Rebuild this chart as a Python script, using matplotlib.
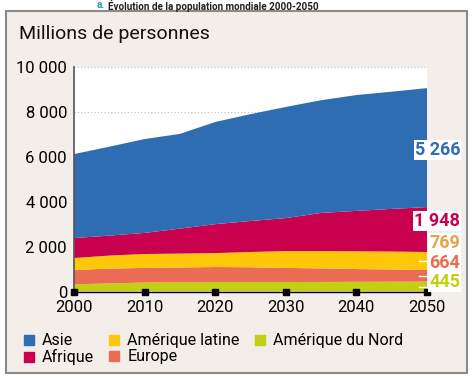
import matplotlib.pyplot as plt
from matplotlib.patches import Rectangle
from matplotlib.lines import Line2D

plt.rcParams['font.family'] = ['Roboto', 'DejaVu Sans']

# donnees (millions)
years = [2000, 2005, 2010, 2015, 2020, 2025, 2030, 2035, 2040, 2045, 2050]
amerique_nord = [320, 360, 400, 410, 420, 420, 420, 425, 430, 435, 440]
europe = [640, 660, 650, 660, 670, 660, 630, 605, 570, 545, 520]
amerique_latine = [530, 580, 620, 620, 620, 680, 750, 770, 790, 800, 800]
afrique = [890, 890, 940, 1110, 1290, 1380, 1470, 1700, 1800, 1900, 2000]
asie = [3740, 3960, 4180, 4220, 4550, 4760, 4950, 5020, 5160, 5220, 5300]

labels_2050 = ["5 266", "1 948", "769", "664", "445"]
label_y = [6300, 3150, 2150, 1260, 420]
tick_years = [2000, 2010, 2020, 2030, 2040, 2050]
yticks = [0, 2000, 4000, 6000, 8000, 10000]
ytick_labels = ["0", "2 000", "4 000", "6 000", "8 000", "10 000"]

c_asie = "#2f6db3"
c_afrique = "#c8004e"
c_latine = "#ffc70a"
c_europe = "#eb6c55"
c_nord = "#c3cf13"
label_colors = [c_asie, c_afrique, "#e5a34a", c_europe, c_nord]

fig = plt.figure(figsize=(4.74, 3.78), dpi=100)
fig.patch.set_facecolor("white")
fig.patches.append(Rectangle((6 / 474, 1 - 373 / 378), 461 / 474, 362 / 378,
                             transform=fig.transFigure, facecolor="#f3eee9",
                             edgecolor="#8a8a8a", lw=1.5, zorder=-5))

fig.text(97 / 474, 1 - 5.5 / 378, "a.", color="#2a9c9c", fontsize=7.1,
         fontweight="bold", va="center", ha="left")
fig.text(108 / 474, 1 - 5.5 / 378, "Évolution de la population mondiale 2000-2050",
         color="#222222", fontsize=7.1, fontweight="bold", va="center",
         ha="left")
fig.text(19 / 474, 1 - 34 / 378, "Millions de personnes", fontsize=14,
         color="#111111", va="center", ha="left")

ax = fig.add_axes([74 / 474, 1 - 291.5 / 378, 353 / 474, 224.5 / 378])
ax.set_facecolor("white")
ax.stackplot(years, amerique_nord, europe, amerique_latine, afrique, asie,
             colors=[c_nord, c_europe, c_latine, c_afrique, c_asie],
             linewidth=0, zorder=2)
ax.set_xlim(2000, 2050)
ax.set_ylim(0, 10000)
for y in [8000, 10000]:
    ax.axhline(y, color="#bbbbbb", lw=0.8, ls=(0, (1, 2)), zorder=1)

for s in ["top", "right"]:
    ax.spines[s].set_visible(False)
ax.spines["left"].set_color("#555555")
ax.spines["left"].set_linewidth(1.2)
ax.spines["bottom"].set_color("black")
ax.spines["bottom"].set_linewidth(1.0)
ax.spines["bottom"].set_zorder(3)

ax.set_xticks(tick_years)
ax.set_xticklabels([str(y) for y in tick_years], fontsize=12)
ax.set_yticks(yticks)
ax.set_yticklabels(ytick_labels, fontsize=12)
ax.tick_params(length=0, pad=5)
ax.tick_params(axis="x", pad=6)
ax.plot(tick_years, [0] * len(tick_years), "s", color="black", ms=5,
        clip_on=False, zorder=5)

# petits traits blancs dans les bandes du bas
bands = [amerique_latine, europe, amerique_nord]
bottoms = [amerique_nord[-1] + europe[-1], amerique_nord[-1], 0]
for band, base in zip(bands, bottoms):
    mid = base + band[-1] / 2
    ax.plot([2048.9, 2050], [mid, mid], color="white", lw=1, zorder=4,
            clip_on=False)

# etiquettes 2050
for txt, y, col in zip(labels_2050, label_y, label_colors):
    ax.text(2054.7, y, txt, color=col, fontsize=13, fontweight="bold",
            ha="right", va="center", clip_on=False, zorder=6,
            bbox=dict(facecolor="white", edgecolor="none", pad=0.8))

# legende
handles = [Line2D([], [], marker="s", ls="none", color=c, ms=7)
           for c in [c_asie, c_afrique, c_latine, c_europe, c_nord]]
names = ["Asie", "Afrique", "Amérique latine", "Europe", "Amérique du Nord"]
fig.legend(handles, names, ncol=3, loc="upper left",
           bbox_to_anchor=(16 / 474, 1 - 327 / 378), frameon=False,
           fontsize=11.5, handlelength=0.8, handletextpad=0.4,
           columnspacing=0.9, labelspacing=0.05, borderaxespad=0)

fig.savefig("out.png", dpi=100)
